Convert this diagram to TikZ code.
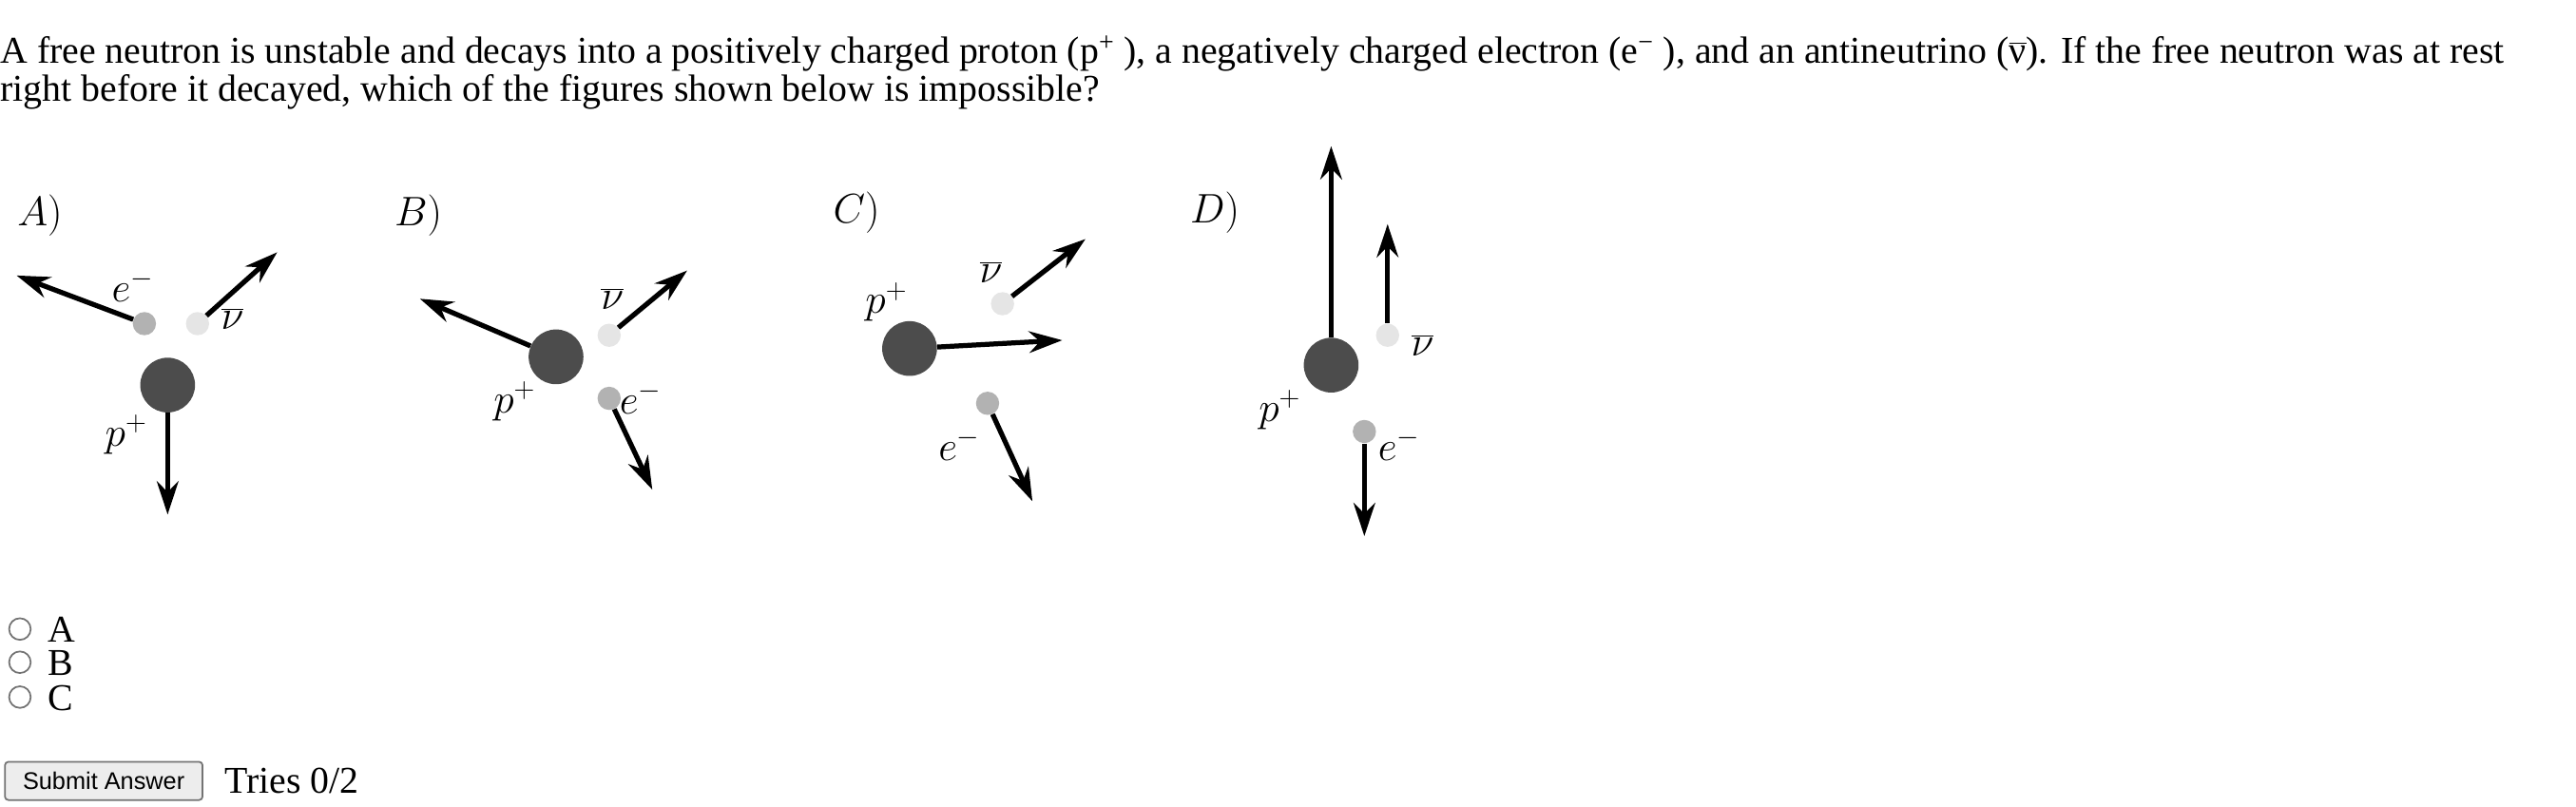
\documentclass[tikz,border=0pt]{standalone}
\usepackage{fontspec}
\setmainfont{Liberation Serif}
\newfontfamily\btnfont{Liberation Sans}
\usetikzlibrary{arrows.meta}
\begin{document}
\begin{tikzpicture}[x=1pt,y=-1pt,
  lbl/.style={font=\fontsize{25}{25}\selectfont},
  qtxt/.style={font=\fontsize{22.8}{24}\selectfont,anchor=base west,inner sep=0},
  prot/.style={circle,fill=black!70,minimum size=33pt,inner sep=0},
  elec/.style={circle,fill=black!30,minimum size=14pt,inner sep=0},
  anu/.style={circle,fill=black!10,minimum size=14pt,inner sep=0},
  mom/.style={line width=3pt,-{Stealth[length=20pt,width=13pt]}},
  radio/.style={circle,draw=black!55,line width=1pt,minimum size=13pt,inner sep=0}]
\useasboundingbox (0,0) rectangle (1552,486);
\node[qtxt] (t1) at (0,38) {A free neutron is unstable and decays into a positively charged proton (p\textsuperscript{+} ), a negatively charged electron (e\textsuperscript{−} ), and an antineutrino (\(\overline{\mbox{ν}}\)). If the free neutron was at rest};
\node[qtxt] (t2) at (0,61) {right before it decayed, which of the figures shown below is impossible?};
% A
\node[lbl] (la) at (24,130) {$A)$};
\node[elec] (ae) at (87,195) {};
\node[anu] (an) at (119,195) {};
\node[prot] (ap) at (101,232) {};
\coordinate (aet) at (10,166); \coordinate (ant) at (167,152); \coordinate (apt) at (101,310);
\draw[mom] (ae) -- (aet); \draw[mom] (an) -- (ant); \draw[mom] (ap.south) -- (apt);
\node[lbl] (lae) at (80,172) {$e^-$};
\node[lbl] (lan) at (140,192) {$\overline{\nu}$};
\node[lbl] (lap) at (76,262) {$p^+$};
% B
\node[lbl] (lb) at (252,130) {$B)$};
\node[prot] (bp) at (335,215) {};
\node[anu] (bn) at (367,202) {};
\node[elec] (be) at (367,240) {};
\coordinate (bpt) at (253,180); \coordinate (bnt) at (414,163); \coordinate (bet) at (393,295);
\draw[mom] (bp) -- (bpt); \draw[mom] (bn) -- (bnt); \draw[mom] (be) -- (bet);
\node[lbl] (lbp) at (310,242) {$p^+$};
\node[lbl] (lbn) at (369,180) {$\overline{\nu}$};
\node[lbl] (lbe) at (386,240) {$e^-$};
% C
\node[lbl] (lc) at (516,128) {$C)$};
\node[prot] (cp) at (548,210) {};
\node[anu] (cn) at (604,183) {};
\node[elec] (ce) at (595,243) {};
\coordinate (cpt) at (640,205); \coordinate (cnt) at (654,144); \coordinate (cet) at (622,302);
\draw[mom] (cp) -- (cpt); \draw[mom] (cn) -- (cnt); \draw[mom] (ce) -- (cet);
\node[lbl] (lcp) at (534,182) {$p^+$};
\node[lbl] (lcn) at (597,164) {$\overline{\nu}$};
\node[lbl] (lce) at (578,268) {$e^-$};
% D
\node[lbl] (ld) at (732,128) {$D)$};
\node[prot] (dp) at (802,220) {};
\node[anu] (dn) at (836,202) {};
\node[elec] (de) at (822,260) {};
\coordinate (dpt) at (802,88); \coordinate (dnt) at (836,135); \coordinate (det) at (822,323);
\draw[mom] (dp) -- (dpt); \draw[mom] (dn) -- (dnt); \draw[mom] (de) -- (det);
\node[lbl] (ldp) at (771,247) {$p^+$};
\node[lbl] (ldn) at (857,208) {$\overline{\nu}$};
\node[lbl] (lde) at (843,268) {$e^-$};
% answers
\node[radio] (r1) at (12,379) {}; \node[radio] (r2) at (12,399) {}; \node[radio] (r3) at (12,420) {};
\node[qtxt] (oa) at (29,387) {A};
\node[qtxt] (ob) at (29,407) {B};
\node[qtxt] (oc) at (29,428) {C};
\node[draw=black!55,fill=black!7,line width=1pt,rounded corners=2pt,minimum width=119pt,minimum height=23pt,inner sep=0,font=\btnfont\fontsize{14.5}{14.5}\selectfont] (btn) at (62.5,470.5) {Submit Answer};
\node[qtxt] (tries) at (135,478) {Tries 0/2};
\end{tikzpicture}
\end{document}
